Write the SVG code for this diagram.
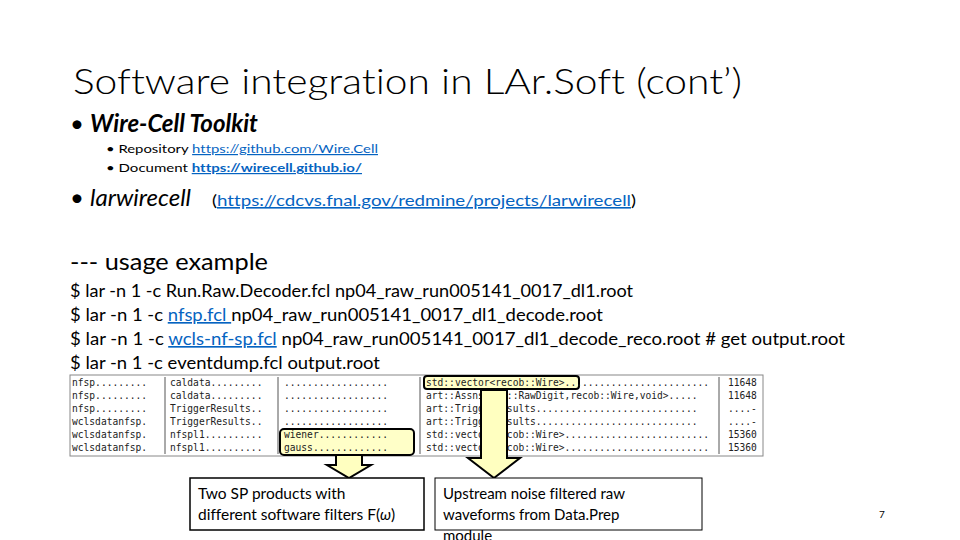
<svg xmlns="http://www.w3.org/2000/svg" width="960" height="540" viewBox="0 0 960 540">
<style>
text{font-family:Lato,"Liberation Sans",sans-serif;fill:#000;font-variant-ligatures:none}
.mono{font-family:"DejaVu Sans Mono","Liberation Mono",monospace;font-size:9.6px;fill:#222}
.sep{stroke:#555;stroke-width:1}
.hl{fill:#ffffc8;stroke:#000;stroke-width:2}
.arr{fill:#ffffc0;stroke:#000;stroke-width:2}
.lnk{fill:#0563c1;text-decoration:underline}
</style>
<rect width="960" height="540" fill="#fff"/>
<g id="title"><text x="73" y="94" font-size="35" font-weight="300" textLength="669" lengthAdjust="spacingAndGlyphs">Software integration in LAr.Soft (cont’)</text></g>
<g id="bullets">
<text x="70" y="132" font-size="24">• <tspan font-style="italic" font-weight="bold">Wire-Cell Toolkit</tspan></text>
<text x="106" y="153" font-size="12" textLength="272" lengthAdjust="spacingAndGlyphs">•  Repository <tspan class="lnk">https://github.com/Wire.Cell</tspan></text>
<text x="106" y="172" font-size="12" textLength="256" lengthAdjust="spacingAndGlyphs">•  Document <tspan class="lnk" font-weight="bold">https://wirecell.github.io/</tspan></text>
<text x="70" y="206" font-size="24">• <tspan font-style="italic">larwirecell</tspan></text>
<text x="212" y="206" font-size="16" textLength="424" lengthAdjust="spacingAndGlyphs">(<tspan class="lnk">https://cdcvs.fnal.gov/redmine/projects/larwirecell</tspan>)</text>
<text x="70" y="270" font-size="23" textLength="198" lengthAdjust="spacingAndGlyphs">--- usage example</text>
<text x="70" y="297" font-size="16.5" textLength="563" lengthAdjust="spacingAndGlyphs">$ lar -n 1 -c Run.Raw.Decoder.fcl np04_raw_run005141_0017_dl1.root</text>
<text x="70" y="321" font-size="16.5" textLength="533" lengthAdjust="spacingAndGlyphs">$ lar -n 1 -c <tspan class="lnk">nfsp.fcl </tspan>np04_raw_run005141_0017_dl1_decode.root</text>
<text x="70" y="345" font-size="16.5" textLength="775" lengthAdjust="spacingAndGlyphs">$ lar -n 1 -c <tspan class="lnk">wcls-nf-sp.fcl</tspan> np04_raw_run005141_0017_dl1_decode_reco.root  # get output.root</text>
<text x="70" y="369" font-size="16.5" textLength="310" lengthAdjust="spacingAndGlyphs">$ lar -n 1 -c eventdump.fcl output.root</text>
</g>
<g id="table">
<rect x="70" y="375" width="693" height="81" fill="#fff" stroke="#888"/>
<rect class="hl" x="280" y="429" width="134" height="26" rx="4"/>
<rect class="hl" x="424" y="376" width="155" height="13" rx="3"/>
<line class="sep" x1="165" y1="377" x2="165" y2="454"/>
<line class="sep" x1="278" y1="377" x2="278" y2="454"/>
<line class="sep" x1="420" y1="377" x2="420" y2="454"/>
<line class="sep" x1="719" y1="377" x2="719" y2="454"/>
<text class="mono" x="72" y="386">nfsp.........</text><text class="mono" x="170" y="386">caldata.........</text><text class="mono" x="284" y="386">..................</text><text class="mono" x="426" y="386">std::vector&lt;recob::Wire&gt;.........................</text><text class="mono" x="728" y="386">11648</text>
<text class="mono" x="72" y="399">nfsp.........</text><text class="mono" x="170" y="399">caldata.........</text><text class="mono" x="284" y="399">..................</text><text class="mono" x="426" y="399">art::Assns&lt;raw::RawDigit,recob::Wire,void&gt;.....</text><text class="mono" x="728" y="399">11648</text>
<text class="mono" x="72" y="412">nfsp.........</text><text class="mono" x="170" y="412">TriggerResults..</text><text class="mono" x="284" y="412">..................</text><text class="mono" x="426" y="412">art::TriggerResults............................</text><text class="mono" x="728" y="412">....-</text>
<text class="mono" x="72" y="425">wclsdatanfsp.</text><text class="mono" x="170" y="425">TriggerResults..</text><text class="mono" x="284" y="425">..................</text><text class="mono" x="426" y="425">art::TriggerResults............................</text><text class="mono" x="728" y="425">....-</text>
<text class="mono" x="72" y="438">wclsdatanfsp.</text><text class="mono" x="170" y="438">nfspl1..........</text><text class="mono" x="284" y="438">wiener............</text><text class="mono" x="426" y="438">std::vector&lt;recob::Wire&gt;.........................</text><text class="mono" x="728" y="438">15360</text>
<text class="mono" x="72" y="451">wclsdatanfsp.</text><text class="mono" x="170" y="451">nfspl1..........</text><text class="mono" x="284" y="451">gauss.............</text><text class="mono" x="426" y="451">std::vector&lt;recob::Wire&gt;.........................</text><text class="mono" x="728" y="451">15360</text>
</g>
<g id="connectors">
<polygon class="arr" points="481,390 507,390 507,458 520,458 494,478 468,458 481,458"/>
<polygon class="arr" points="336,455 362,455 362,465 371,465 349,478 327,465 336,465"/>
</g>
<g id="box1">
<rect x="190" y="478" width="234" height="52" fill="#fff" stroke="#000" stroke-width="1.5"/>
<text x="198" y="499" font-size="15.5">Two SP products with</text>
<text x="198" y="520" font-size="15.5">different software filters F(<tspan font-style="italic">ω</tspan>)</text>
</g>
<g id="box2">
<rect x="435" y="478" width="267" height="52" fill="#fff" stroke="#000" stroke-width="1"/>
<text x="443" y="499" font-size="15">Upstream noise filtered raw</text>
<text x="443" y="520" font-size="15">waveforms from Data.Prep</text>
<text x="443" y="541" font-size="15">module</text>
</g>
<g id="pagenum"><text x="879" y="518" font-size="10" fill="#777">7</text></g>
</svg>
